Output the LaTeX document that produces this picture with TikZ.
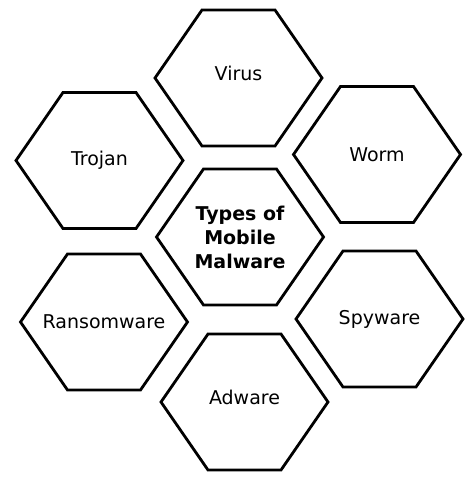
\documentclass[tikz,border=0pt]{standalone}
\usepackage{fontspec}
\setmainfont{DejaVu Sans}
\usetikzlibrary{calc,positioning}

\tikzset{
  kind/.style={align=center,font=\fontsize{9.5}{12}\selectfont,inner sep=0pt},
  hexline/.style={draw=black,line width=1.4pt}
}

\begin{document}
\begin{tikzpicture}[x=0.5pt,y=-0.5pt]
\useasboundingbox (0,0) rectangle (474,480);
\node [kind,font=\fontsize{9.5}{12}\selectfont\bfseries] (Types) at (240,237) {Types of\\Mobile\\Malware};
\node [kind,yshift=2.5pt] (Virus) at (238.5,78) {Virus};
\node [kind] (Trojan) at (99.5,160.5) {Trojan};
\node [kind] (Worm) at (377,154.5) {Worm};
\node [kind] (Ransomware) at (104,322) {Ransomware};
\node [kind] (Spyware) at (379.5,319) {Spyware};
\node [kind,yshift=2.5pt] (Adware) at (244.5,402) {Adware};
\foreach \h/\dy in {Types/0,Virus/2.5pt,Trojan/0,Worm/0,Ransomware/0,Spyware/0,Adware/2.5pt}
  \draw [hexline] ($(\h)+(0,-\dy)+(-83.5,0)$) -- ($(\h)+(0,-\dy)+(-36.5,-68)$) -- ($(\h)+(0,-\dy)+(36.5,-68)$)
    -- ($(\h)+(0,-\dy)+(83.5,0)$) -- ($(\h)+(0,-\dy)+(36.5,68)$) -- ($(\h)+(0,-\dy)+(-36.5,68)$) -- cycle;
\end{tikzpicture}
\end{document}
